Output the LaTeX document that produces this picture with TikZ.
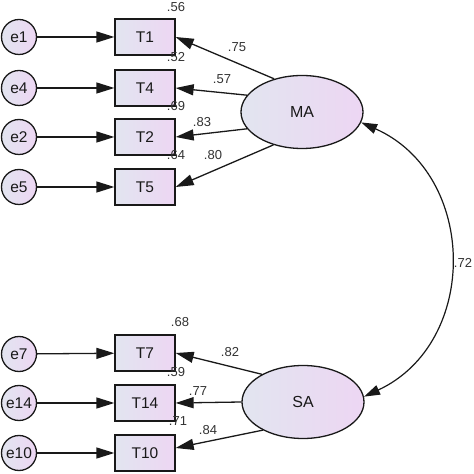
\documentclass[tikz,border=0pt]{standalone}
\usepackage{fontspec}
\setmainfont{Liberation Sans}
\usetikzlibrary{arrows.meta,shapes.geometric}
\definecolor{lft}{RGB}{226,229,240}
\definecolor{rgt}{RGB}{237,214,243}
\definecolor{ink}{RGB}{25,25,25}
\definecolor{numc}{RGB}{50,50,50}
\tikzset{
  err/.style={circle, draw=ink, line width=1.3pt, minimum size=35pt, inner sep=0pt,
    left color=lft, right color=rgt, text=ink, font=\fontsize{15.5}{15.5}\selectfont},
  obs/.style={rectangle, draw=ink, line width=1.3pt, minimum width=60pt, minimum height=36pt,
    inner sep=0pt, left color=lft, right color=rgt, text=ink, font=\fontsize{15.5}{15.5}\selectfont},
  lat/.style={ellipse, draw=ink, line width=1.3pt, minimum width=122pt, minimum height=73pt,
    inner sep=0pt, left color=lft, right color=rgt, text=ink, font=\fontsize{16}{16}\selectfont},
  arr/.style={-{Triangle[length=18pt,width=11pt]}, line width=1.3pt, draw=ink},
  dbl/.style={{Triangle[length=16pt,width=10pt]}-{Triangle[length=16pt,width=10pt]}, line width=1.2pt, draw=ink},
  num/.style={font=\fontsize{13}{13}\selectfont, inner sep=0pt, text=numc}
}
\begin{document}
\begin{tikzpicture}[x=1pt,y=1pt]
\useasboundingbox (0,0) rectangle (474,474);
% error terms
\node[err] (e1) at (19,437) {e1};
\node[err] (e4) at (19,386) {e4};
\node[err] (e2) at (19,337) {e2};
\node[err] (e5) at (19,287) {e5};
\node[err] (e7) at (19,120) {e7};
\node[err] (e14) at (19,71) {e14};
\node[err] (e10) at (19,21) {e10};
% observed
\node[obs] (T1) at (145,437) {T1};
\node[obs] (T4) at (145,386) {T4};
\node[obs] (T2) at (145,337) {T2};
\node[obs] (T5) at (145,287) {T5};
\node[obs] (T7) at (145,121) {T7};
\node[obs] (T14) at (145,71) {T14};
\node[obs] (T10) at (145,21) {T10};
% latent
\node[lat] (MA) at (302,362) {MA};
\node[lat] (SA) at (303,72) {SA};
% error arrows
\foreach \e/\t in {e1/T1,e4/T4,e2/T2,e5/T5,e7/T7,e14/T14,e10/T10}
  \draw[arr] (\e) -- (\t);
% loadings
\draw[arr] (MA.130) -- (T1.east);
\draw[arr] (MA.163) -- (T4.east);
\draw[arr] (MA.197) -- (T2.east);
\draw[arr] (MA.229) -- (T5.east);
\draw[arr] (SA.146) -- (T7.east);
\draw[arr] (SA.180) -- (T14.east);
\draw[arr] (SA.215) -- ([yshift=5pt]T10.east);
% covariance
\draw[dbl] (MA.-10) to[out=-24,in=25,looseness=1.19] (SA.5);
% variance labels
\node[num] (r1) at (176,467) {.56};
\node[num] (r4) at (176,417) {.52};
\node[num] (r2) at (176,368) {.69};
\node[num] (r5) at (176,319) {.64};
\node[num] (r7) at (180,152) {.68};
\node[num] (r14) at (176,102) {.59};
\node[num] (r10) at (178,53) {.71};
% loading labels
\node[num] (l1) at (237,427) {.75};
\node[num] (l4) at (222,395) {.57};
\node[num] (l2) at (202,352) {.83};
\node[num] (l5) at (213,319) {.80};
\node[num] (l7) at (230,122) {.82};
\node[num] (l14) at (198,83) {.77};
\node[num] (l10) at (208,44) {.84};
\node[num] (cov) at (463,211) {.72};
\end{tikzpicture}
\end{document}
